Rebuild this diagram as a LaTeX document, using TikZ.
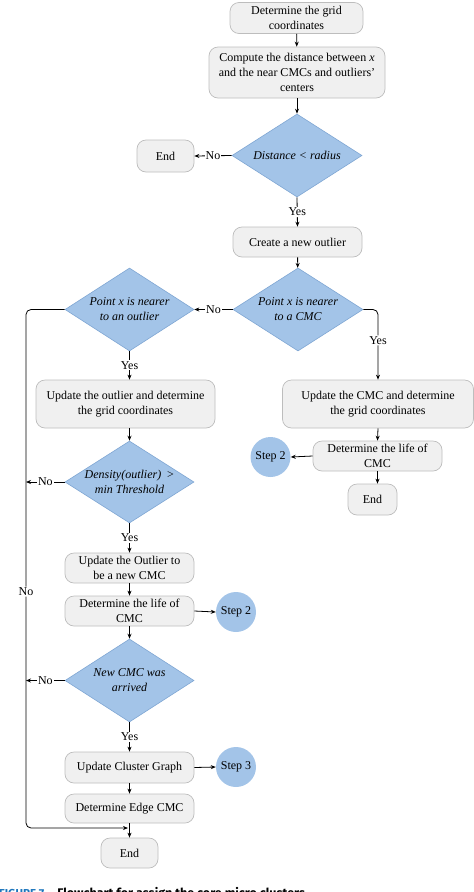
\documentclass[tikz,border=0pt]{standalone}
\usepackage{fontspec}
\setmainfont{Liberation Serif}
\newfontfamily\capfont{Fira Sans}
\usetikzlibrary{shapes.geometric,arrows.meta}
\definecolor{boxfill}{HTML}{F0F0F0}
\definecolor{boxline}{HTML}{BDBDBD}
\definecolor{diafill}{HTML}{A3C4E8}
\definecolor{dialine}{HTML}{7FA6D3}
\definecolor{capblue}{HTML}{1B75BC}
\begin{document}
\begin{tikzpicture}[x=1pt,y=-1pt,
 every node/.style={font=\fontsize{12}{15}\selectfont},
 box/.style={draw=boxline, fill=boxfill, rounded corners=9pt, align=center, inner sep=0pt, line width=0.7pt},
 dia/.style={diamond, draw=dialine, fill=diafill, inner sep=0pt, line width=0.6pt},
 dlab/.style={font=\fontsize{12}{15}\selectfont\itshape, align=center},
 circ/.style={circle, fill=diafill, minimum size=40pt, inner sep=0pt},
 arr/.style={-{Stealth[length=5pt,width=4pt]}, line width=0.8pt},
 lbl/.style={fill=white, inner sep=1pt}]
\useasboundingbox (0,0) rectangle (474,892);
% boxes
\node[box, minimum width=133pt, minimum height=31pt] (n1) at (296.5,18) {Determine the grid\\coordinates};
\node[box, minimum width=176pt, minimum height=51pt] (n2) at (297,72.5) {Compute the distance between \textit{x}\\and the near CMCs and outliers'\\centers};
\node[dia, minimum width=130pt, minimum height=83pt, label={[dlab]center:Distance < radius}] (d1) at (297,155.5) {};
\node[box, minimum width=57pt, minimum height=32pt] (e1) at (165.5,156) {End};
\node[box, minimum width=129pt, minimum height=30pt] (cr) at (297.5,242) {Create a new outlier};
\node[dia, minimum width=130pt, minimum height=83pt, label={[dlab]center:Point x is nearer\\to a CMC}] (d2) at (298,309.5) {};
\node[dia, minimum width=129pt, minimum height=83pt, label={[dlab]center:Point x is nearer\\to an outlier}] (d3) at (129.5,309.5) {};
\node[box, minimum width=179pt, minimum height=48pt] (uo) at (125.5,404) {Update the outlier and determine\\the grid coordinates};
\node[box, minimum width=191pt, minimum height=48pt] (uc) at (378,404) {Update the CMC and determine\\the grid coordinates};
\node[dia, minimum width=129pt, minimum height=82pt, label={[dlab]center:Density(outlier) \,>\\min Threshold}] (d4) at (129.5,482) {};
\node[box, minimum width=129pt, minimum height=30pt] (l1) at (377.5,456) {Determine the life of\\CMC};
\node[circ] (s2a) at (270.5,457) {Step 2};
\node[box, minimum width=49pt, minimum height=31pt] (e2) at (372.5,499.5) {End};
\node[box, minimum width=129pt, minimum height=30pt] (u2) at (129.5,568) {Update the Outlier to\\be a new CMC};
\node[box, minimum width=129pt, minimum height=30pt] (l2) at (129.5,611) {Determine the life of\\CMC};
\node[circ] (s2b) at (236,612) {Step 2};
\node[dia, minimum width=129pt, minimum height=83pt, label={[dlab]center:New CMC was\\arrived}] (d5) at (129.5,680.5) {};
\node[box, minimum width=129pt, minimum height=31pt] (ug) at (129.5,767.5) {Update Cluster Graph};
\node[circ] (s3) at (236,767) {Step 3};
\node[box, minimum width=129pt, minimum height=29pt] (ed) at (129.5,808.5) {Determine Edge CMC};
\node[box, minimum width=57pt, minimum height=30pt] (e3) at (129.5,853) {End};
% coordinates
\coordinate (ctop) at (26,309.5);
\coordinate (cbot) at (26,828);
\coordinate (jn) at (128,828);
\coordinate (n4) at (26,482);
\coordinate (n5) at (26,680.5);
% connectors
\draw[arr] (n1) -- (n2);
\draw[arr] (n2) -- (d1);
\draw[arr] (d1.west) -- node[lbl]{No} (e1.east);
\draw[arr] (d1.south) -- node[lbl]{Yes} (cr.north);
\draw[arr] (cr) -- (d2);
\draw[arr] (d2.west) -- node[lbl]{No} (d3.east);
\draw[arr, rounded corners=5pt] (d2.east) -| node[lbl, pos=0.72]{Yes} (uc.north);
\draw[arr] (d3.south) -- node[lbl]{Yes} (d3.south |- uo.north);
\draw[arr] (uo.south -| d4.north) -- (d4.north);
\draw[arr] (uc.south) -- (l1.north);
\draw[arr] (l1.west) -- (s2a.east);
\draw[arr] (l1.south) -- (l1.south |- e2.north);
\draw[arr] (d4.west) -- node[lbl]{No} (n4);
\draw[arr] (d4.south) -- node[lbl]{Yes} (u2.north);
\draw[arr] (u2) -- (l2);
\draw[arr] (l2.east) -- (s2b.west);
\draw[arr] (l2) -- (d5);
\draw[arr] (d5.west) -- node[lbl]{No} (n5);
\draw[arr] (d5.south) -- node[lbl]{Yes} (ug.north);
\draw[arr] (ug.east) -- (s3.west);
\draw[arr] (ug) -- (ed);
\draw[arr] (ed) -- (e3);
\draw[arr, rounded corners=5pt] (d3.west) -- (ctop) -- node[lbl, pos=0.544]{No} (cbot) -- (jn);
% caption (cut by the page edge, as in the reference)
\node[anchor=base west, inner sep=0pt, font=\capfont\bfseries\fontsize{12.5}{14}\selectfont] (cap) at (-1,897) {\textcolor{capblue}{\fontsize{11.5}{14}\selectfont FIGURE 7}\hspace{13pt}Flowchart for assign the core micro clusters};
\end{tikzpicture}
\end{document}
